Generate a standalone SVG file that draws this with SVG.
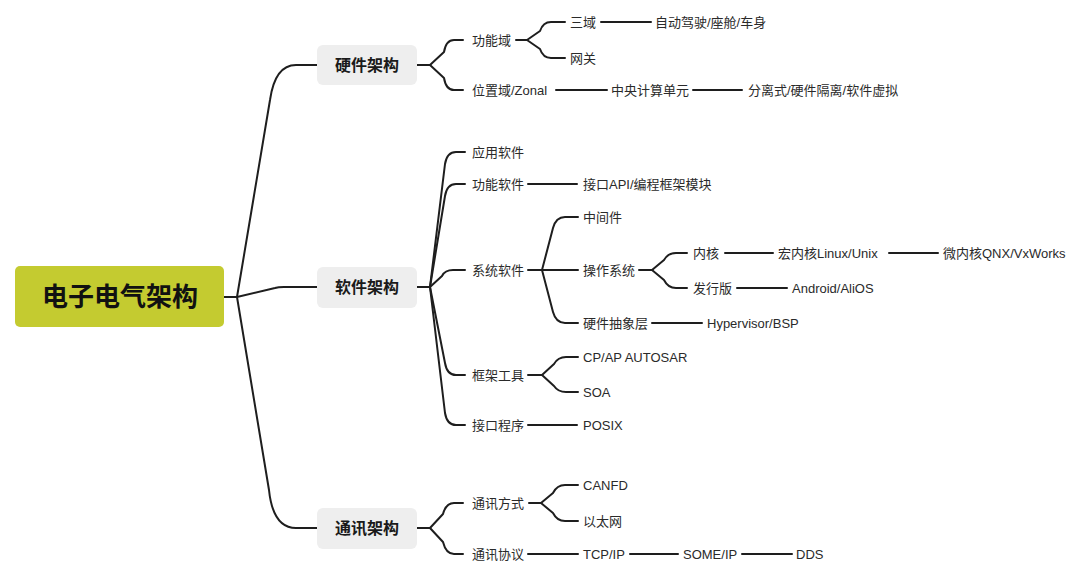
<svg xmlns="http://www.w3.org/2000/svg" width="1080" height="579" viewBox="0 0 1080 579">
<style>
text{font-family:"Liberation Sans","Noto Sans CJK SC",sans-serif;dominant-baseline:central;fill:#2a2a2a}
.t{font-size:13px}
.b{font-size:16px;font-weight:bold;fill:#1a1a1a;text-anchor:middle}
.r{font-size:26px;font-weight:bold;fill:#111;text-anchor:middle}
.bx{fill:#eeeeee}
#connectors path{fill:none;stroke:#1e1e1e;stroke-width:2;stroke-linecap:round;stroke-linejoin:round}
</style>
<rect width="1080" height="579" fill="#ffffff"/>
<g id="connectors">
<path d="M224,297 L237,297"/>
<path d="M237,297 L270,100 Q275,65 296,65 L317,65"/>
<path d="M237,297 L275,288 Q278,287 284,287 L317,287"/>
<path d="M237,297 L269,490 Q273,528 296,528 L317,528"/>
<path d="M417,65 L430,65"/>
<path d="M430,65 L444,52 Q446,40 454,40 L463,40"/>
<path d="M430,65 L444,78 Q446,90 454,90 L463,90"/>
<path d="M516,40 L527,40"/>
<path d="M527,40 L540,31 Q543,22 551,22 L565,22"/>
<path d="M527,40 L540,49 Q543,58 551,58 L565,58"/>
<path d="M601,22 L651,22"/>
<path d="M556,90 L607,90"/>
<path d="M693,90 L742,90"/>
<path d="M417,287 L430,287"/>
<path d="M430,287 L445,164 Q447,152 456,152 L465,152"/>
<path d="M430,287 L445,196 Q447,184 456,184 L465,184"/>
<path d="M430,287 L442,276 Q445,270 453,270 L465,270"/>
<path d="M430,287 L445,363 Q447,375 456,375 L465,375"/>
<path d="M430,287 L445,413 Q447,425 456,425 L465,425"/>
<path d="M528,184 L577,184"/>
<path d="M528,270 L542,270"/>
<path d="M542,270 L553,228 Q556,217 565,217 L578,217"/>
<path d="M542,270 L578,270"/>
<path d="M542,270 L553,312 Q556,323 565,323 L578,323"/>
<path d="M639,270 L652,270"/>
<path d="M652,270 L664,260 Q668,253 676,253 L687,253"/>
<path d="M652,270 L664,280 Q668,288 676,288 L687,288"/>
<path d="M725,253 L773,253"/>
<path d="M889,253 L938,253"/>
<path d="M737,288 L787,288"/>
<path d="M652,323 L702,323"/>
<path d="M528,375 L542,375"/>
<path d="M542,375 L554,364 Q558,357 566,357 L578,357"/>
<path d="M542,375 L554,386 Q558,392 566,392 L578,392"/>
<path d="M528,425 L577,425"/>
<path d="M417,528 L430,528"/>
<path d="M430,528 L443,514 Q446,503 454,503 L463,503"/>
<path d="M430,528 L443,542 Q446,554 454,554 L463,554"/>
<path d="M529,503 L541,503"/>
<path d="M541,503 L553,493 Q557,485 565,485 L578,485"/>
<path d="M541,503 L553,513 Q557,521 565,521 L578,521"/>
<path d="M528,554 L578,554"/>
<path d="M630,554 L678,554"/>
<path d="M742,554 L792,554"/>
</g>
<g id="root"><rect x="15" y="266" width="209" height="61" rx="5" fill="#c4cb30"/><text class="r" x="120" y="297">电子电气架构</text></g>
<g id="hw"><rect class="bx" x="317" y="45" width="100" height="40" rx="6"/><text class="b" x="367" y="65">硬件架构</text></g>
<g id="sw"><rect class="bx" x="317" y="267" width="100" height="41" rx="6"/><text class="b" x="367" y="287.5">软件架构</text></g>
<g id="comm"><rect class="bx" x="317" y="508" width="100" height="41" rx="6"/><text class="b" x="367" y="528.5">通讯架构</text></g>
<g id="hw-func"><text class="t" x="472" y="40">功能域</text></g>
<g id="hw-3"><text class="t" x="570" y="22">三域</text></g>
<g id="hw-3a"><text class="t" x="655" y="22">自动驾驶/座舱/车身</text></g>
<g id="hw-gw"><text class="t" x="570" y="58">网关</text></g>
<g id="hw-zone"><text class="t" x="472" y="90">位置域/Zonal</text></g>
<g id="hw-ccu"><text class="t" x="611" y="90">中央计算单元</text></g>
<g id="hw-ccu-a"><text class="t" x="748" y="90">分离式/硬件隔离/软件虚拟</text></g>
<g id="sw-app"><text class="t" x="472" y="152">应用软件</text></g>
<g id="sw-func"><text class="t" x="472" y="184">功能软件</text></g>
<g id="sw-api"><text class="t" x="583" y="184">接口API/编程框架模块</text></g>
<g id="sw-sys"><text class="t" x="472" y="270">系统软件</text></g>
<g id="sw-mid"><text class="t" x="583" y="217">中间件</text></g>
<g id="sw-os"><text class="t" x="583" y="270">操作系统</text></g>
<g id="sw-kernel"><text class="t" x="693" y="253">内核</text></g>
<g id="sw-macro"><text class="t" x="778" y="253">宏内核Linux/Unix</text></g>
<g id="sw-micro"><text class="t" x="943" y="253">微内核QNX/VxWorks</text></g>
<g id="sw-dist"><text class="t" x="693" y="288">发行版</text></g>
<g id="sw-android"><text class="t" x="792" y="288">Android/AliOS</text></g>
<g id="sw-hal"><text class="t" x="583" y="323">硬件抽象层</text></g>
<g id="sw-hyp"><text class="t" x="707" y="323">Hypervisor/BSP</text></g>
<g id="sw-fw"><text class="t" x="472" y="375">框架工具</text></g>
<g id="sw-autosar"><text class="t" x="583" y="357">CP/AP AUTOSAR</text></g>
<g id="sw-soa"><text class="t" x="583" y="392">SOA</text></g>
<g id="sw-if"><text class="t" x="472" y="425">接口程序</text></g>
<g id="sw-posix"><text class="t" x="583" y="425">POSIX</text></g>
<g id="comm-mode"><text class="t" x="472" y="503">通讯方式</text></g>
<g id="comm-canfd"><text class="t" x="583" y="485">CANFD</text></g>
<g id="comm-eth"><text class="t" x="583" y="521">以太网</text></g>
<g id="comm-proto"><text class="t" x="472" y="554">通讯协议</text></g>
<g id="comm-tcp"><text class="t" x="583" y="554">TCP/IP</text></g>
<g id="comm-some"><text class="t" x="683" y="554">SOME/IP</text></g>
<g id="comm-dds"><text class="t" x="796" y="554">DDS</text></g>
</svg>
